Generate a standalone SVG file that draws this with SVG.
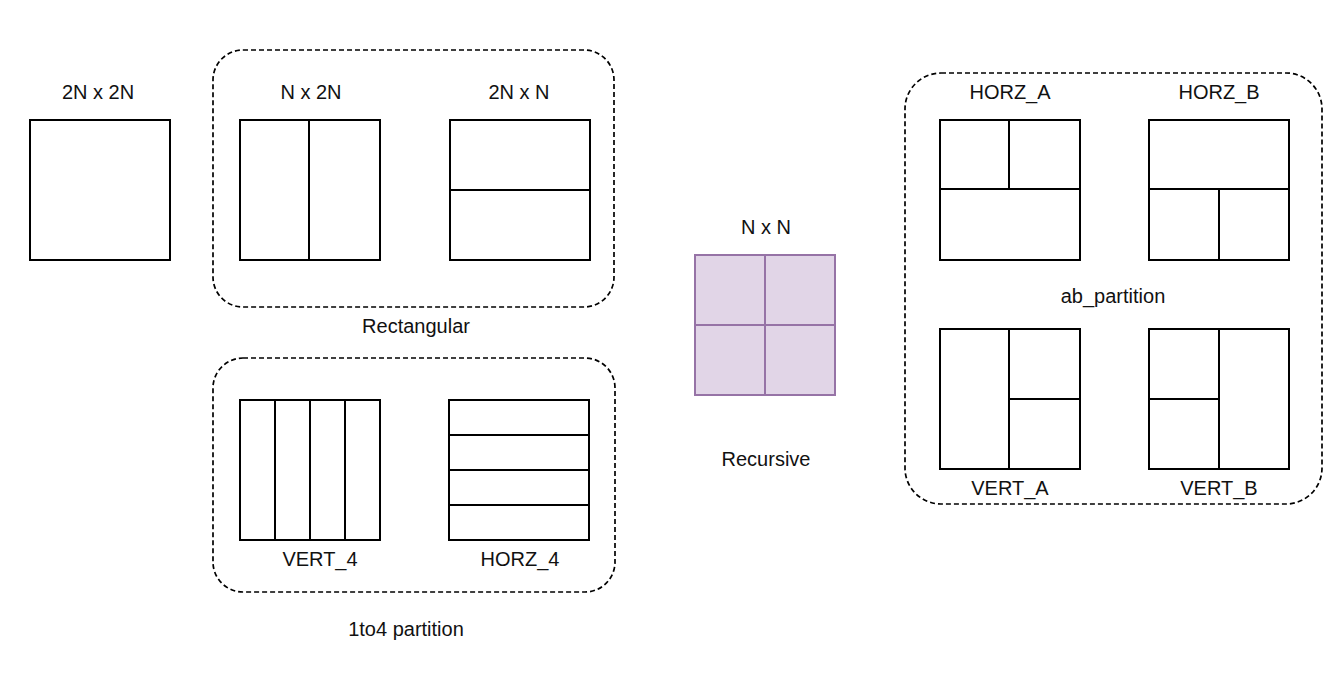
<svg xmlns="http://www.w3.org/2000/svg" width="1335" height="697" viewBox="0 0 1335 697">
<style>
  .box{fill:#ffffff;stroke:#000000;stroke-width:2}
  .div{fill:none;stroke:#000000;stroke-width:2}
  .grp{fill:none;stroke:#000000;stroke-width:1.7;stroke-dasharray:5 3}
  .pbox{fill:#e1d5e7;stroke:#9673a6;stroke-width:2}
  .pdiv{fill:none;stroke:#9673a6;stroke-width:2}
  text{font-family:"Liberation Sans",Arial,sans-serif;font-size:20px;fill:#111111;text-anchor:middle}
</style>
<rect width="1335" height="697" fill="#ffffff"/>
<g id="group-rectangular">
  <rect class="grp" x="213" y="50" width="401" height="257" rx="30" ry="30"/>
  <text x="416" y="333">Rectangular</text>
</g>
<g id="group-1to4">
  <rect class="grp" x="213" y="358" width="402" height="234" rx="30" ry="30"/>
  <text x="406" y="636">1to4 partition</text>
</g>
<g id="group-ab">
  <rect class="grp" x="905" y="73" width="417" height="431" rx="36" ry="36"/>
  <text x="1113" y="303">ab_partition</text>
</g>
<g id="node-2Nx2N">
  <text x="98" y="99">2N x 2N</text>
  <rect class="box" x="30" y="120" width="140" height="140"/>
</g>
<g id="node-Nx2N">
  <text x="311" y="99">N x 2N</text>
  <rect class="box" x="240" y="120" width="140" height="140"/>
  <line class="div" x1="309" y1="120" x2="309" y2="260"/>
</g>
<g id="node-2NxN">
  <text x="519" y="99">2N x N</text>
  <rect class="box" x="450" y="120" width="140" height="140"/>
  <line class="div" x1="450" y1="190" x2="590" y2="190"/>
</g>
<g id="node-VERT_4">
  <rect class="box" x="240" y="400" width="140" height="140"/>
  <line class="div" x1="275" y1="400" x2="275" y2="540"/>
  <line class="div" x1="310" y1="400" x2="310" y2="540"/>
  <line class="div" x1="345" y1="400" x2="345" y2="540"/>
  <text x="320" y="566">VERT_4</text>
</g>
<g id="node-HORZ_4">
  <rect class="box" x="449" y="400" width="140" height="140"/>
  <line class="div" x1="449" y1="435" x2="589" y2="435"/>
  <line class="div" x1="449" y1="470" x2="589" y2="470"/>
  <line class="div" x1="449" y1="505" x2="589" y2="505"/>
  <text x="520" y="566">HORZ_4</text>
</g>
<g id="node-NxN">
  <text x="766" y="234">N x N</text>
  <rect class="pbox" x="695" y="255" width="140" height="140"/>
  <line class="pdiv" x1="765" y1="255" x2="765" y2="395"/>
  <line class="pdiv" x1="695" y1="325" x2="835" y2="325"/>
  <text x="766" y="466">Recursive</text>
</g>
<g id="node-HORZ_A">
  <text x="1010" y="99">HORZ_A</text>
  <rect class="box" x="940" y="120" width="140" height="140"/>
  <line class="div" x1="940" y1="189" x2="1080" y2="189"/>
  <line class="div" x1="1009" y1="120" x2="1009" y2="189"/>
</g>
<g id="node-HORZ_B">
  <text x="1219" y="99">HORZ_B</text>
  <rect class="box" x="1149" y="120" width="140" height="140"/>
  <line class="div" x1="1149" y1="189" x2="1289" y2="189"/>
  <line class="div" x1="1219" y1="189" x2="1219" y2="260"/>
</g>
<g id="node-VERT_A">
  <rect class="box" x="940" y="329" width="140" height="140"/>
  <line class="div" x1="1009" y1="329" x2="1009" y2="469"/>
  <line class="div" x1="1009" y1="399" x2="1080" y2="399"/>
  <text x="1010" y="495">VERT_A</text>
</g>
<g id="node-VERT_B">
  <rect class="box" x="1149" y="329" width="140" height="140"/>
  <line class="div" x1="1219" y1="329" x2="1219" y2="469"/>
  <line class="div" x1="1149" y1="399" x2="1219" y2="399"/>
  <text x="1219" y="495">VERT_B</text>
</g>
<g id="connectors"></g>
</svg>
